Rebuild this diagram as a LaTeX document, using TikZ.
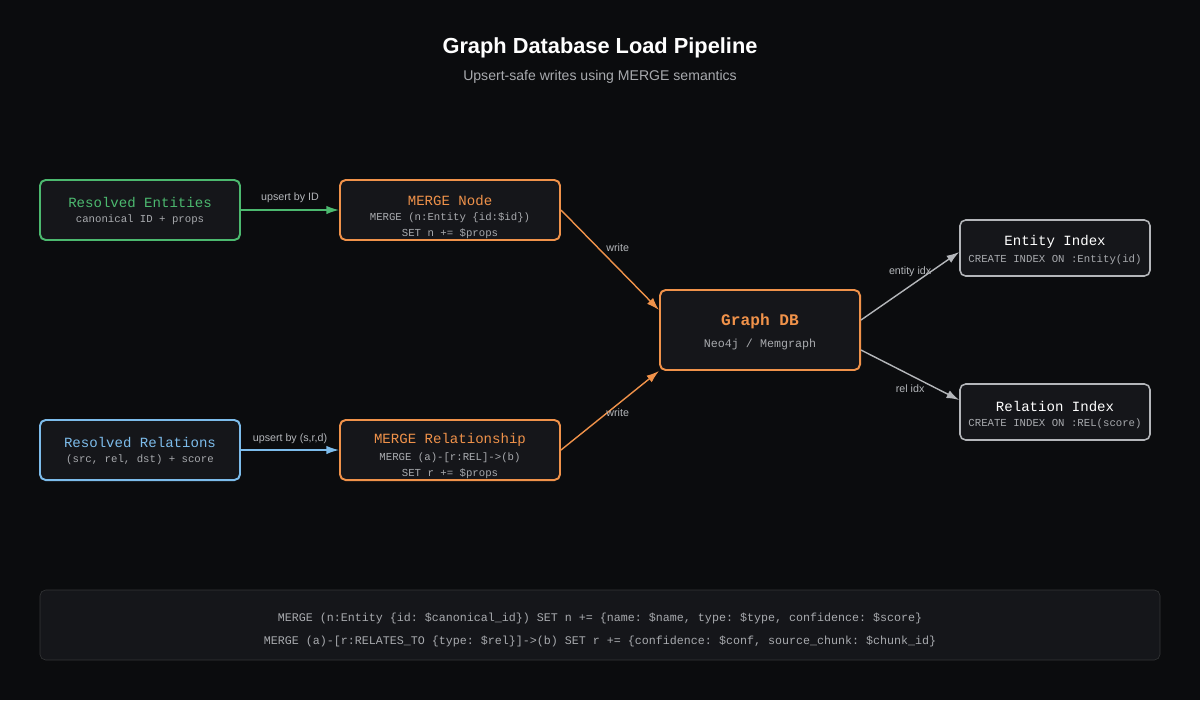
\documentclass[tikz,border=0pt]{standalone}
\usepackage{fontspec}
\setmainfont{Liberation Sans}
\setmonofont{Liberation Mono}
\usetikzlibrary{arrows.meta}
\definecolor{bgc}{HTML}{0B0C0E}
\definecolor{boxc}{HTML}{15161A}
\definecolor{grn}{HTML}{4CB96F}
\definecolor{blu}{HTML}{7DBCEB}
\definecolor{org}{HTML}{F0924A}
\definecolor{gry}{HTML}{B4B6BA}
\definecolor{sub}{HTML}{A8AAAE}
\tikzset{
  box/.style={draw=#1,line width=1.4pt,rounded corners=4pt,fill=boxc,inner sep=0pt},
  ttl/.style={font=\ttfamily\fontsize{10}{12}\selectfont,text=#1},
  mono/.style={font=\ttfamily\fontsize{7.6}{9}\selectfont,text=sub},
  lbl/.style={font=\fontsize{7.6}{9}\selectfont,text=gry},
  arr/.style={draw=#1,line width=1pt,-{Latex[length=9pt,width=6pt]}}
}
\begin{document}
\begin{tikzpicture}[x=0.025cm,y=-0.025cm]
  \fill[bgc] (0,0) rectangle (1200,700);
  \useasboundingbox (0,0) rectangle (1200,700);

  \node[font=\bfseries\fontsize{15.5}{18}\selectfont,text=white] (title) at (600,48) {Graph Database Load Pipeline};
  \node[font=\fontsize{10}{12}\selectfont,text=sub] (subtitle) at (600,77) {Upsert-safe writes using MERGE semantics};

  % boxes
  \node[box=grn,minimum width=200*0.025cm,minimum height=60*0.025cm] (ent) at (140,210) {};
  \node[box=blu,minimum width=200*0.025cm,minimum height=60*0.025cm] (rel) at (140,450) {};
  \node[box=org,minimum width=220*0.025cm,minimum height=60*0.025cm] (mn) at (450,210) {};
  \node[box=org,minimum width=220*0.025cm,minimum height=60*0.025cm] (mr) at (450,450) {};
  \node[box=org,minimum width=200*0.025cm,minimum height=80*0.025cm] (db) at (760,330) {};
  \node[box=gry,line width=1.1pt,minimum width=190*0.025cm,minimum height=56*0.025cm] (ei) at (1055,248) {};
  \node[box=gry,line width=1.1pt,minimum width=190*0.025cm,minimum height=56*0.025cm] (ri) at (1055,412) {};

  % texts
  \node[ttl=grn] (ent1) at (140,202) {Resolved Entities};
  \node[mono] (ent2) at (140,220) {canonical ID + props};
  \node[ttl=blu] (rel1) at (140,442) {Resolved Relations};
  \node[mono] (rel2) at (140,460) {(src, rel, dst) + score};
  \node[ttl=org] (mn1) at (450,200) {MERGE Node};
  \node[mono] (mn2) at (450,218) {MERGE (n:Entity \{id:\$id\})};
  \node[mono] (mn3) at (450,234) {SET n += \$props};
  \node[ttl=org] (mr1) at (450,440) {MERGE Relationship};
  \node[mono] (mr2) at (450,458) {MERGE (a)-[r:REL]->(b)};
  \node[mono] (mr3) at (450,474) {SET r += \$props};
  \node[ttl=org,font=\ttfamily\bfseries\fontsize{11.5}{13}\selectfont] (db1) at (760,321) {Graph DB};
  \node[mono,font=\ttfamily\fontsize{8.3}{10}\selectfont] (db2) at (760,344) {Neo4j / Memgraph};
  \node[ttl=white] (ei1) at (1055,242) {Entity Index};
  \node[mono] (ei2) at (1055,260) {CREATE INDEX ON :Entity(id)};
  \node[ttl=white] (ri1) at (1055,406) {Relation Index};
  \node[mono] (ri2) at (1055,424) {CREATE INDEX ON :REL(score)};

  % connectors
  \draw[arr=grn] (ent.east) -- node[lbl,above=1pt] {upsert by ID} (mn.west);
  \draw[arr=blu] (rel.east) -- node[lbl,above=1pt] {upsert by (s,r,d)} (mr.west);
  \draw[arr=org] (mn.east) -- node[lbl,pos=0.38,right=2pt] {write} ([yshift=0.5cm]db.west);
  \draw[arr=org] (mr.east) -- node[lbl,pos=0.38,right=2pt,yshift=5pt] {write} (db.south west);
  \draw[arr=gry] ([yshift=0.25cm]db.east) -- node[lbl,pos=0.5,above=3pt] {entity idx} ([yshift=-0.1cm]ei.west);
  \draw[arr=gry] ([yshift=-0.5cm]db.east) -- node[lbl,pos=0.5,below=3pt] {rel idx} ([yshift=0.3cm]ri.west);

  % footer
  \node[draw=boxc!70!gray,fill=boxc,rounded corners=4pt,minimum width=1120*0.025cm,minimum height=70*0.025cm] (foot) at (600,625) {};
  \node[mono,font=\ttfamily\fontsize{8.3}{10}\selectfont] (f1) at (600,618) {MERGE (n:Entity \{id: \$canonical\_id\}) SET n += \{name: \$name, type: \$type, confidence: \$score\}};
  \node[mono,font=\ttfamily\fontsize{8.3}{10}\selectfont] (f2) at (600,641) {MERGE (a)-[r:RELATES\_TO \{type: \$rel\}]->(b) SET r += \{confidence: \$conf, source\_chunk: \$chunk\_id\}};
\end{tikzpicture}
\end{document}
